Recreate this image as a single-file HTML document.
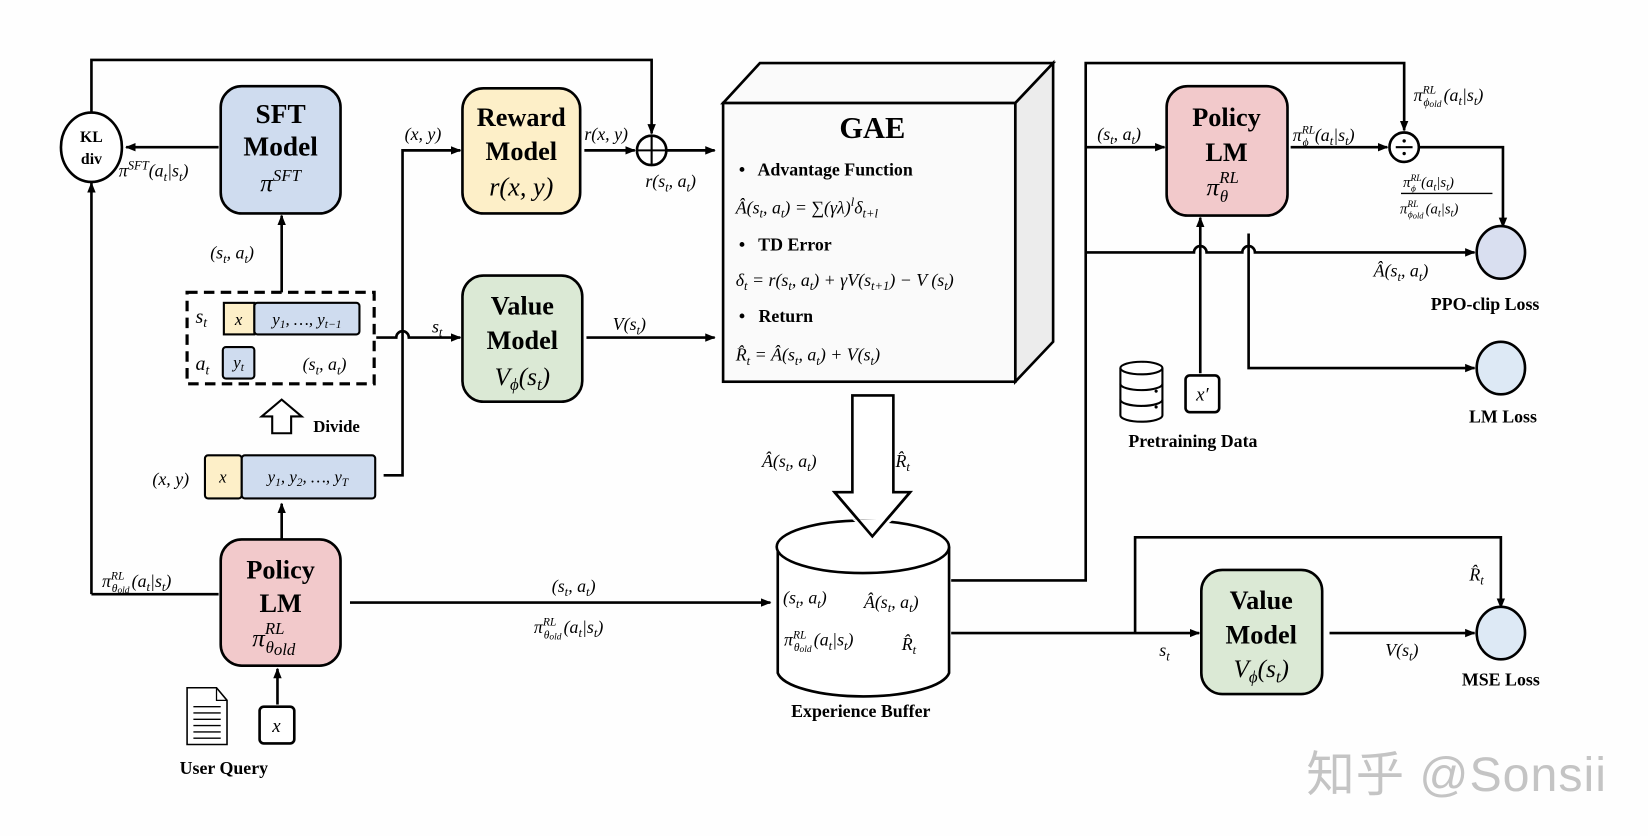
<!DOCTYPE html>
<html><head><meta charset="utf-8"><style>
html,body{margin:0;padding:0;background:#fff;}
svg{display:block;}
.b{font-family:"Liberation Serif",serif;font-weight:bold;}
.m{font-family:"Liberation Serif",serif;font-style:italic;}
.r{font-family:"Liberation Serif",serif;}
</style></head><body>
<svg width="1648" height="836" viewBox="0 0 1568 795" preserveAspectRatio="none" xmlns="http://www.w3.org/2000/svg">
<defs><marker id="a" markerWidth="10" markerHeight="10" refX="9" refY="5" orient="auto" markerUnits="userSpaceOnUse"><path d="M0,1 L10,5 L0,9 Z" fill="#000"/></marker></defs>
<rect width="1568" height="795" fill="#fefefe"/>
<g stroke="#000" stroke-width="2.5" fill="none">
<path d="M87,108 V57 H620 V127" marker-end="url(#a)"/>
<path d="M87,565 V174" marker-end="url(#a)"/>
<path d="M87,565 H208"/>
<path d="M208,140 H120" marker-end="url(#a)"/>
<path d="M268,278 V205" marker-end="url(#a)"/>
<path d="M358,321 H377 a6,6 0 0 1 12,0 H438" marker-end="url(#a)"/>
<path d="M365,452 H383 V143 H438" marker-end="url(#a)"/>
<path d="M556,143 H604" marker-end="url(#a)"/>
<path d="M634,143 H680" marker-end="url(#a)"/>
<path d="M558,321 H680" marker-end="url(#a)"/>
<path d="M268,513 V479" marker-end="url(#a)"/>
<path d="M333,573 H733" marker-end="url(#a)"/>
<path d="M264,670 V636" marker-end="url(#a)"/>
<path d="M905,552 H1033 V60 H1336 V124" marker-end="url(#a)"/>
<path d="M1033,140 H1108" marker-end="url(#a)"/>
<path d="M1033,240 H1136 a6,6 0 0 1 12,0 H1182 a6,6 0 0 1 12,0 H1403" marker-end="url(#a)"/>
<path d="M1142,355 V207" marker-end="url(#a)"/>
<path d="M1188,222 V350 H1403" marker-end="url(#a)"/>
<path d="M1228,140 H1320" marker-end="url(#a)"/>
<path d="M1350,140 H1430 V216" marker-end="url(#a)"/>
<path d="M905,602 H1141" marker-end="url(#a)"/>
<path d="M1080,602 V511 H1428 V578" marker-end="url(#a)"/>
<path d="M1265,602 H1403" marker-end="url(#a)"/>
</g>
<ellipse cx="87" cy="140" rx="29" ry="33" fill="#fff" stroke="#000" stroke-width="2.5"/>
<text x="87" y="135" class="b" font-size="15" text-anchor="middle">KL</text>
<text x="87" y="156" class="b" font-size="15" text-anchor="middle">div</text>
<rect x="210" y="82" width="114" height="121" rx="20" fill="#cfdcef" stroke="#000" stroke-width="2.5"/>
<text x="267" y="117" class="b" font-size="26" text-anchor="middle">SFT</text>
<text x="267" y="148" class="b" font-size="26" text-anchor="middle">Model</text>
<text x="267" y="182" class="m" font-size="24" text-anchor="middle">π<tspan class="r" font-size="16" dy="-10">SFT</tspan></text>
<text x="113" y="168" class="m" font-size="17">π<tspan class="r" font-size="12" dy="-7">SFT</tspan><tspan dy="7">(a</tspan><tspan font-size="12" dy="4">t</tspan><tspan dy="-4">|s</tspan><tspan font-size="12" dy="4">t</tspan><tspan dy="-4">)</tspan></text>
<text x="200" y="246" class="m" font-size="17">(s<tspan font-size="12" dy="4">t</tspan><tspan dy="-4">, a</tspan><tspan font-size="12" dy="4">t</tspan><tspan dy="-4">)</tspan></text>
<rect x="178" y="278" width="178" height="87" fill="none" stroke="#000" stroke-width="3" stroke-dasharray="10,6"/>
<text x="186" y="307" class="m" font-size="19">s<tspan font-size="13" dy="4">t</tspan></text>
<rect x="213" y="288" width="29" height="30" fill="#fdefc8" stroke="#000" stroke-width="2"/>
<text x="227" y="309" class="m" font-size="16" text-anchor="middle">x</text>
<rect x="242" y="288" width="100" height="30" rx="3" fill="#cfdcef" stroke="#000" stroke-width="2"/>
<text x="292" y="309" class="m" font-size="16" text-anchor="middle">y<tspan font-size="11" dy="3">1</tspan><tspan dy="-3">, …, y</tspan><tspan font-size="11" dy="3">t−1</tspan></text>
<text x="186" y="352" class="m" font-size="19">a<tspan font-size="13" dy="4">t</tspan></text>
<rect x="212" y="330" width="30" height="30" rx="3" fill="#cfdcef" stroke="#000" stroke-width="2"/>
<text x="227" y="350" class="m" font-size="16" text-anchor="middle">y<tspan font-size="11" dy="3">t</tspan></text>
<text x="288" y="352" class="m" font-size="17">(s<tspan font-size="12" dy="4">t</tspan><tspan dy="-4">, a</tspan><tspan font-size="12" dy="4">t</tspan><tspan dy="-4">)</tspan></text>
<path d="M259,412 V396 H249 L268,380 L287,396 H277 V412 Z" fill="#fff" stroke="#000" stroke-width="2"/>
<text x="298" y="411" class="b" font-size="16">Divide</text>
<text x="145" y="461" class="m" font-size="17">(x, y)</text>
<rect x="195" y="433" width="35" height="41" rx="3" fill="#fdefc8" stroke="#000" stroke-width="2"/>
<text x="212" y="459" class="m" font-size="16" text-anchor="middle">x</text>
<rect x="230" y="433" width="127" height="41" rx="3" fill="#cfdcef" stroke="#000" stroke-width="2"/>
<text x="293" y="459" class="m" font-size="16" text-anchor="middle">y<tspan font-size="11" dy="3">1</tspan><tspan dy="-3">, y</tspan><tspan font-size="11" dy="3">2</tspan><tspan dy="-3">, …, y</tspan><tspan font-size="11" dy="3">T</tspan></text>
<rect x="440" y="84" width="112" height="119" rx="20" fill="#fdefc8" stroke="#000" stroke-width="2.5"/>
<text x="496" y="120" class="b" font-size="25" text-anchor="middle">Reward</text>
<text x="496" y="152" class="b" font-size="25" text-anchor="middle">Model</text>
<text x="496" y="186" class="m" font-size="25" text-anchor="middle">r(x, y)</text>
<text x="385" y="133" class="m" font-size="17">(x, y)</text>
<text x="556" y="133" class="m" font-size="17">r(x, y)</text>
<circle cx="620" cy="143" r="14" fill="#fff" stroke="#000" stroke-width="2.5"/>
<path d="M606,143 H634 M620,129 V157" stroke="#000" stroke-width="2"/>
<text x="614" y="178" class="m" font-size="17">r(s<tspan font-size="12" dy="4">t</tspan><tspan dy="-4">, a</tspan><tspan font-size="12" dy="4">t</tspan><tspan dy="-4">)</tspan></text>
<rect x="440" y="262" width="114" height="120" rx="20" fill="#dbe9d5" stroke="#000" stroke-width="2.5"/>
<text x="497" y="299" class="b" font-size="25" text-anchor="middle">Value</text>
<text x="497" y="332" class="b" font-size="25" text-anchor="middle">Model</text>
<text x="497" y="366" class="m" font-size="24" text-anchor="middle">V<tspan font-size="16" dy="5">ϕ</tspan><tspan dy="-5">(s</tspan><tspan font-size="16" dy="5">t</tspan><tspan dy="-5">)</tspan></text>
<text x="411" y="316" class="m" font-size="17">s<tspan font-size="12" dy="4">t</tspan></text>
<text x="583" y="314" class="m" font-size="17">V(s<tspan font-size="12" dy="4">t</tspan><tspan dy="-4">)</tspan></text>
<rect x="210" y="513" width="114" height="120" rx="20" fill="#f2c9cb" stroke="#000" stroke-width="2.5"/>
<text x="267" y="550" class="b" font-size="25" text-anchor="middle">Policy</text>
<text x="267" y="582" class="b" font-size="25" text-anchor="middle">LM</text>
<text x="240" y="615" class="m" font-size="24">π<tspan class="r" font-size="16" dy="-12">RL</tspan><tspan font-size="16" dx="-18" dy="18">θ</tspan><tspan class="r" font-size="16" dy="2">old</tspan></text>
<text x="97" y="558" class="m" font-size="17">π<tspan class="r" font-size="11" dy="-7">RL</tspan><tspan font-size="11" dx="-12" dy="12">θ</tspan><tspan class="r" font-size="9" dy="1">old</tspan><tspan dy="-6" dx="2">(a</tspan><tspan font-size="12" dy="4">t</tspan><tspan dy="-4">|s</tspan><tspan font-size="12" dy="4">t</tspan><tspan dy="-4">)</tspan></text>
<text x="525" y="563" class="m" font-size="17">(s<tspan font-size="12" dy="4">t</tspan><tspan dy="-4">, a</tspan><tspan font-size="12" dy="4">t</tspan><tspan dy="-4">)</tspan></text>
<text x="508" y="602" class="m" font-size="17">π<tspan class="r" font-size="11" dy="-7">RL</tspan><tspan font-size="11" dx="-12" dy="12">θ</tspan><tspan class="r" font-size="9" dy="1">old</tspan><tspan dy="-6" dx="2">(a</tspan><tspan font-size="12" dy="4">t</tspan><tspan dy="-4">|s</tspan><tspan font-size="12" dy="4">t</tspan><tspan dy="-4">)</tspan></text>
<path d="M178,654 H206 L216,666 V708 H178 Z" fill="#fff" stroke="#000" stroke-width="1.5"/>
<path d="M206,654 V666 H216" fill="none" stroke="#000" stroke-width="1.2"/>
<g stroke="#000" stroke-width="1.3"><path d="M184,672H210M184,678H210M184,684H210M184,690H210M184,696H210M184,702H210"/></g>
<rect x="247" y="672" width="33" height="35" rx="4" fill="#fff" stroke="#000" stroke-width="2.5"/>
<text x="263" y="696" class="m" font-size="18" text-anchor="middle">x</text>
<text x="213" y="736" class="b" font-size="17" text-anchor="middle">User Query</text>
<path d="M688,98 L723,60 H1002 L966,98 Z" fill="#fafafa" stroke="#000" stroke-width="2.5"/>
<path d="M966,98 L1002,60 V325 L966,363 Z" fill="#ececec" stroke="#000" stroke-width="2.5"/>
<rect x="688" y="98" width="278" height="265" fill="#fafafa" stroke="#000" stroke-width="2.5"/>
<text x="830" y="131" class="b" font-size="29" text-anchor="middle">GAE</text>
<text x="703" y="167" class="b" font-size="17">•&#160;&#160; Advantage Function</text>
<text x="700" y="203" class="m" font-size="17">Â(s<tspan font-size="12" dy="4">t</tspan><tspan dy="-4">, a</tspan><tspan font-size="12" dy="4">t</tspan><tspan dy="-4">) = ∑(γλ)</tspan><tspan font-size="12" dy="-7">l</tspan><tspan dy="7">δ</tspan><tspan font-size="12" dy="4">t+l</tspan></text>
<text x="703" y="238" class="b" font-size="17">•&#160;&#160; TD Error</text>
<text x="700" y="272" class="m" font-size="17">δ<tspan font-size="12" dy="4">t</tspan><tspan dy="-4"> = r(s</tspan><tspan font-size="12" dy="4">t</tspan><tspan dy="-4">, a</tspan><tspan font-size="12" dy="4">t</tspan><tspan dy="-4">) + γV(s</tspan><tspan font-size="12" dy="4">t+1</tspan><tspan dy="-4">) − V (s</tspan><tspan font-size="12" dy="4">t</tspan><tspan dy="-4">)</tspan></text>
<text x="703" y="306" class="b" font-size="17">•&#160;&#160; Return</text>
<text x="700" y="343" class="m" font-size="17">R̂<tspan font-size="12" dy="4">t</tspan><tspan dy="-4"> = Â(s</tspan><tspan font-size="12" dy="4">t</tspan><tspan dy="-4">, a</tspan><tspan font-size="12" dy="4">t</tspan><tspan dy="-4">) + V(s</tspan><tspan font-size="12" dy="4">t</tspan><tspan dy="-4">)</tspan></text>
<path d="M811,376 H850 V468 H866 L830,510 L794,468 H811 Z" fill="#fff" stroke="#000" stroke-width="2.5"/>
<text x="725" y="444" class="m" font-size="17">Â(s<tspan font-size="12" dy="4">t</tspan><tspan dy="-4">, a</tspan><tspan font-size="12" dy="4">t</tspan><tspan dy="-4">)</tspan></text>
<text x="852" y="444" class="m" font-size="17">R̂<tspan font-size="12" dy="4">t</tspan></text>
<path d="M740,520 V640 A82,25 0 0 0 903,640 V520" fill="#fff" stroke="#000" stroke-width="2.5"/>
<ellipse cx="821" cy="520" rx="82" ry="25" fill="#fff" stroke="#000" stroke-width="2.5"/>
<path d="M811,494 H850 L830,510 Z" fill="#fff"/>
<path d="M794,468 L830,510 L866,468" fill="none" stroke="#000" stroke-width="2.5"/>
<text x="745" y="574" class="m" font-size="17">(s<tspan font-size="12" dy="4">t</tspan><tspan dy="-4">, a</tspan><tspan font-size="12" dy="4">t</tspan><tspan dy="-4">)</tspan></text>
<text x="822" y="578" class="m" font-size="17">Â(s<tspan font-size="12" dy="4">t</tspan><tspan dy="-4">, a</tspan><tspan font-size="12" dy="4">t</tspan><tspan dy="-4">)</tspan></text>
<text x="746" y="614" class="m" font-size="17">π<tspan class="r" font-size="11" dy="-7">RL</tspan><tspan font-size="11" dx="-12" dy="12">θ</tspan><tspan class="r" font-size="9" dy="1">old</tspan><tspan dy="-6" dx="2">(a</tspan><tspan font-size="12" dy="4">t</tspan><tspan dy="-4">|s</tspan><tspan font-size="12" dy="4">t</tspan><tspan dy="-4">)</tspan></text>
<text x="858" y="618" class="m" font-size="17">R̂<tspan font-size="12" dy="4">t</tspan></text>
<text x="819" y="682" class="b" font-size="17" text-anchor="middle">Experience Buffer</text>
<rect x="1110" y="82" width="115" height="123" rx="20" fill="#f2c9cb" stroke="#000" stroke-width="2.5"/>
<text x="1167" y="120" class="b" font-size="25" text-anchor="middle">Policy</text>
<text x="1167" y="153" class="b" font-size="25" text-anchor="middle">LM</text>
<text x="1148" y="186" class="m" font-size="24">π<tspan class="r" font-size="16" dy="-12">RL</tspan><tspan font-size="16" dx="-18" dy="18">θ</tspan></text>
<text x="1044" y="133" class="m" font-size="17">(s<tspan font-size="12" dy="4">t</tspan><tspan dy="-4">, a</tspan><tspan font-size="12" dy="4">t</tspan><tspan dy="-4">)</tspan></text>
<text x="1230" y="134" class="m" font-size="17">π<tspan class="r" font-size="11" dy="-7">RL</tspan><tspan font-size="11" dx="-12" dy="12">ϕ</tspan><tspan dy="-5" dx="6">(a</tspan><tspan font-size="12" dy="4">t</tspan><tspan dy="-4">|s</tspan><tspan font-size="12" dy="4">t</tspan><tspan dy="-4">)</tspan></text>
<text x="1345" y="96" class="m" font-size="17">π<tspan class="r" font-size="11" dy="-7">RL</tspan><tspan font-size="11" dx="-12" dy="12">ϕ</tspan><tspan class="r" font-size="9" dy="1">old</tspan><tspan dy="-6" dx="2">(a</tspan><tspan font-size="12" dy="4">t</tspan><tspan dy="-4">|s</tspan><tspan font-size="12" dy="4">t</tspan><tspan dy="-4">)</tspan></text>
<circle cx="1336" cy="140" r="14" fill="#fff" stroke="#000" stroke-width="2.5"/>
<path d="M1328,140 H1344" stroke="#000" stroke-width="2"/>
<circle cx="1336" cy="134" r="1.6"/><circle cx="1336" cy="146" r="1.6"/>
<text x="1335" y="178" class="m" font-size="14">π<tspan class="r" font-size="9" dy="-6">RL</tspan><tspan font-size="9" dx="-10" dy="10">ϕ</tspan><tspan dy="-4" dx="5">(a</tspan><tspan font-size="10" dy="3">t</tspan><tspan dy="-3">|s</tspan><tspan font-size="10" dy="3">t</tspan><tspan dy="-3">)</tspan></text>
<path d="M1333,184 H1420" stroke="#000" stroke-width="1.3"/>
<text x="1332" y="203" class="m" font-size="14">π<tspan class="r" font-size="9" dy="-6">RL</tspan><tspan font-size="9" dx="-10" dy="10">ϕ</tspan><tspan class="r" font-size="8" dy="1">old</tspan><tspan dy="-5" dx="2">(a</tspan><tspan font-size="10" dy="3">t</tspan><tspan dy="-3">|s</tspan><tspan font-size="10" dy="3">t</tspan><tspan dy="-3">)</tspan></text>
<text x="1307" y="263" class="m" font-size="17">Â(s<tspan font-size="12" dy="4">t</tspan><tspan dy="-4">, a</tspan><tspan font-size="12" dy="4">t</tspan><tspan dy="-4">)</tspan></text>
<ellipse cx="1428" cy="240" rx="23" ry="25" fill="#d9dff0" stroke="#000" stroke-width="2.5"/>
<text x="1413" y="295" class="b" font-size="17" text-anchor="middle">PPO-clip Loss</text>
<ellipse cx="1428" cy="350" rx="23" ry="25" fill="#dde9f5" stroke="#000" stroke-width="2.5"/>
<text x="1430" y="402" class="b" font-size="17" text-anchor="middle">LM Loss</text>
<g fill="#fff" stroke="#000" stroke-width="2">
<path d="M1066,350 V395 A20,6 0 0 0 1106,395 V350"/>
<ellipse cx="1086" cy="350" rx="20" ry="6"/>
<path d="M1066,365 A20,6 0 0 0 1106,365 M1066,380 A20,6 0 0 0 1106,380" fill="none"/>
</g>
<circle cx="1100" cy="372" r="1.5"/><circle cx="1100" cy="387" r="1.5"/>
<rect x="1128" y="357" width="32" height="35" rx="4" fill="#fff" stroke="#000" stroke-width="2.5"/>
<text x="1144" y="381" class="m" font-size="18" text-anchor="middle">x′</text>
<text x="1135" y="425" class="b" font-size="17" text-anchor="middle">Pretraining Data</text>
<rect x="1143" y="542" width="115" height="118" rx="20" fill="#dbe9d5" stroke="#000" stroke-width="2.5"/>
<text x="1200" y="579" class="b" font-size="25" text-anchor="middle">Value</text>
<text x="1200" y="612" class="b" font-size="25" text-anchor="middle">Model</text>
<text x="1200" y="644" class="m" font-size="24" text-anchor="middle">V<tspan font-size="16" dy="5">ϕ</tspan><tspan dy="-5">(s</tspan><tspan font-size="16" dy="5">t</tspan><tspan dy="-5">)</tspan></text>
<text x="1103" y="624" class="m" font-size="17">s<tspan font-size="12" dy="4">t</tspan></text>
<text x="1318" y="624" class="m" font-size="17">V(s<tspan font-size="12" dy="4">t</tspan><tspan dy="-4">)</tspan></text>
<text x="1398" y="552" class="m" font-size="17">R̂<tspan font-size="12" dy="4">t</tspan></text>
<ellipse cx="1428" cy="602" rx="23" ry="25" fill="#dde9f5" stroke="#000" stroke-width="2.5"/>
<text x="1428" y="652" class="b" font-size="17" text-anchor="middle">MSE Loss</text>
<text x="1243" y="752" font-family="'Liberation Sans','Noto Sans CJK SC',sans-serif" font-size="46" fill="#c4c4c4" textLength="285">知乎 @Sonsii</text>
</svg>
</body></html>
